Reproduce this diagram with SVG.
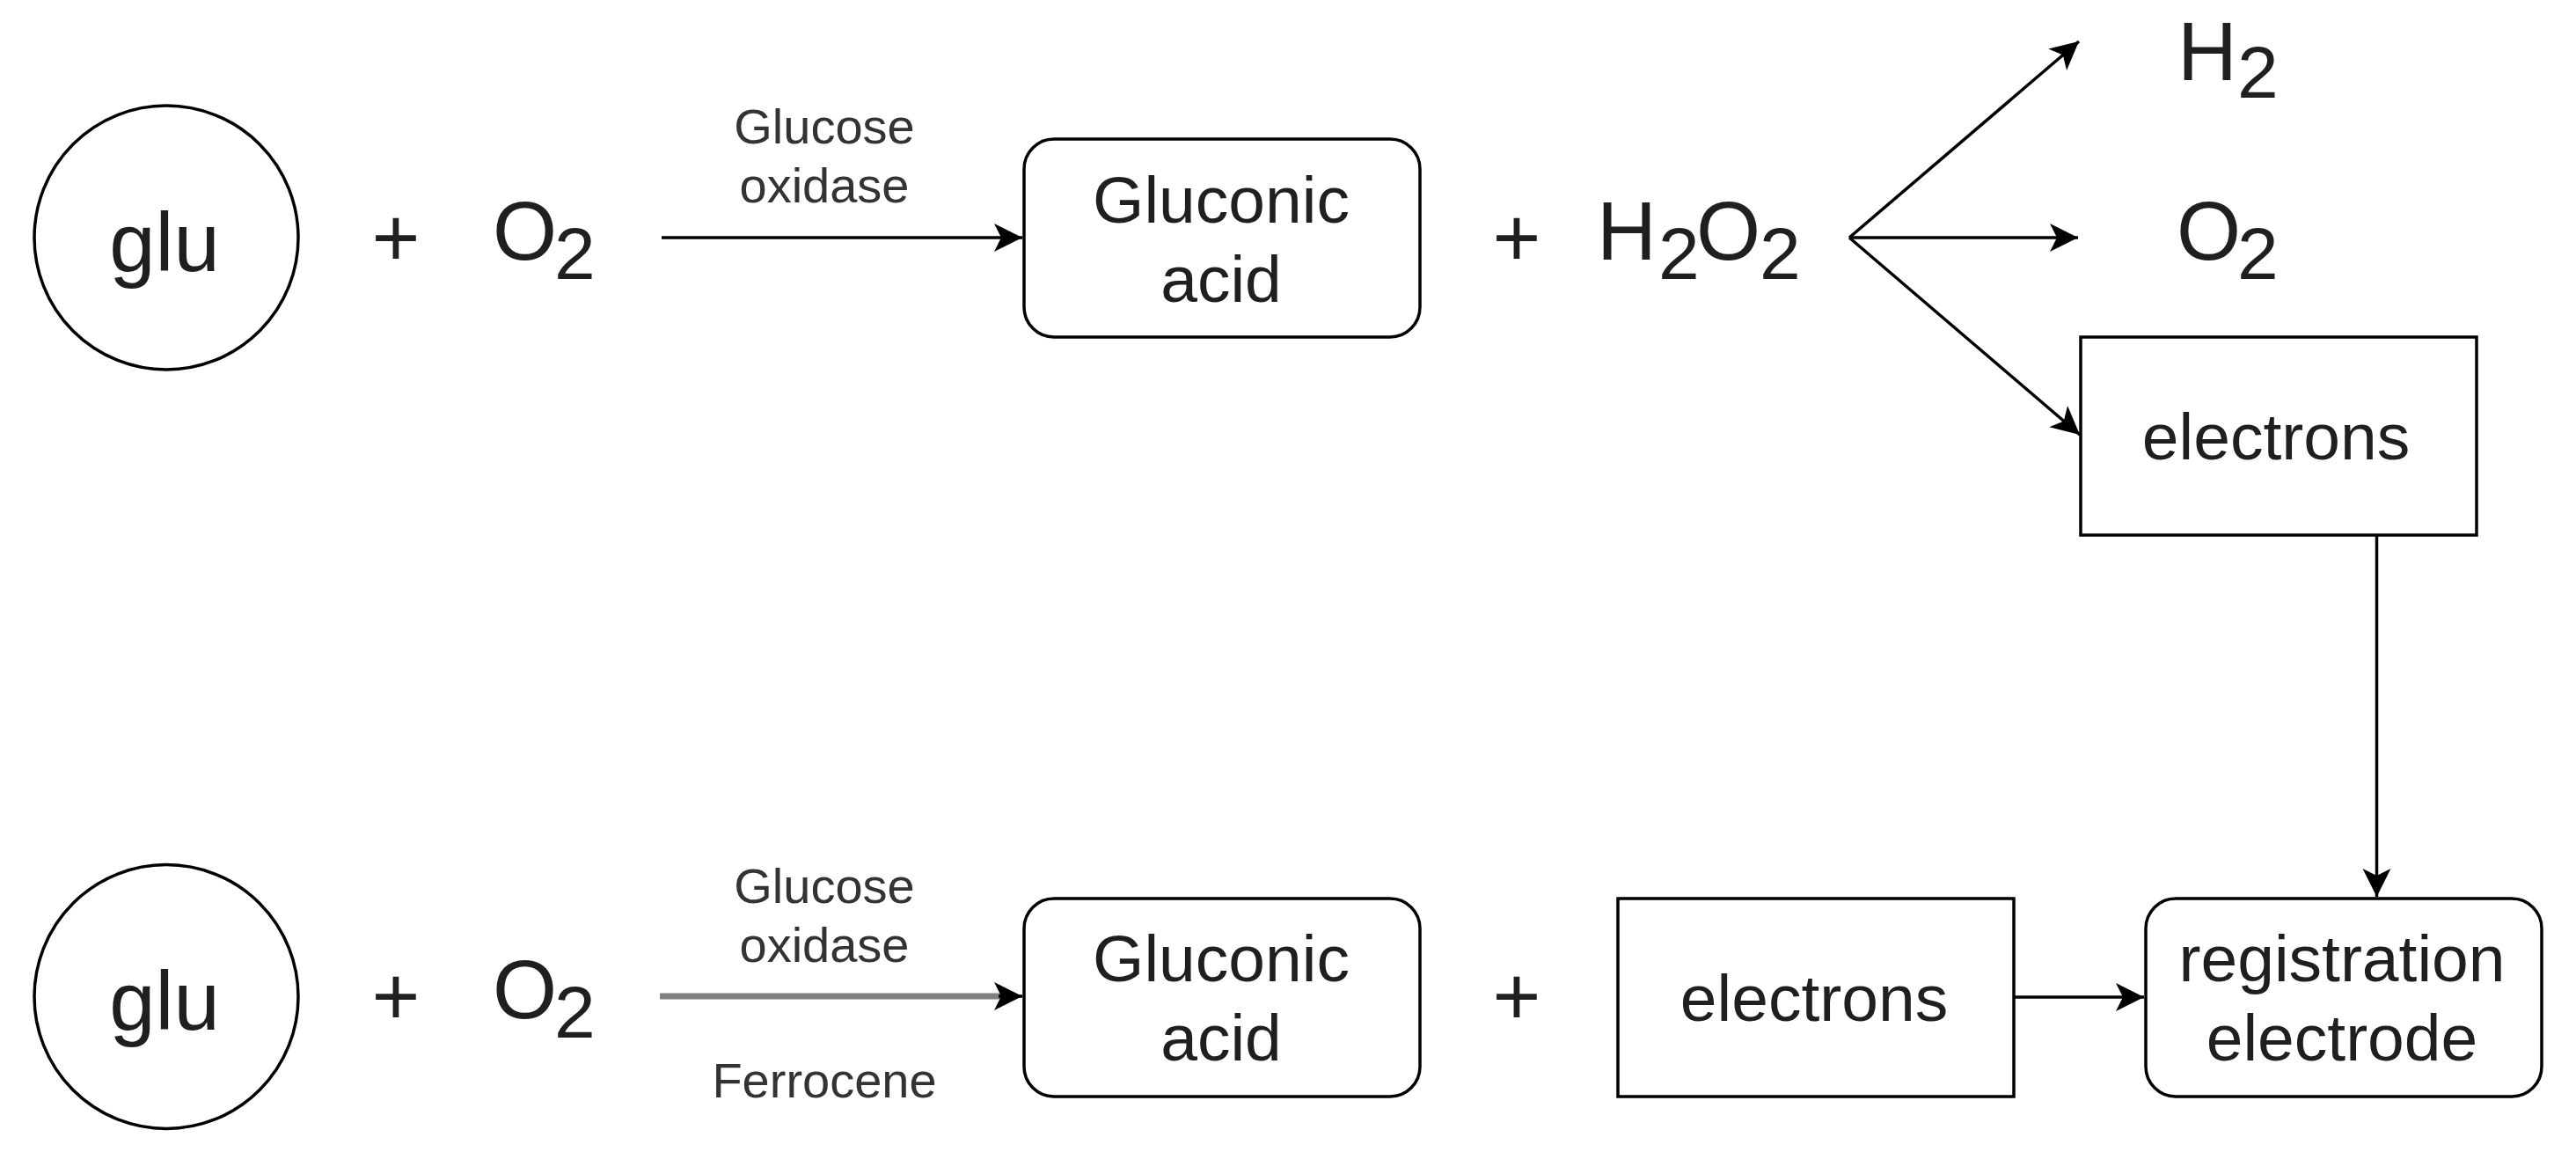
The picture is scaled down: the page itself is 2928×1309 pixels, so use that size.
<svg xmlns="http://www.w3.org/2000/svg" width="2928" height="1309" viewBox="0 0 2928 1309">
<style>
text{font-family:"Liberation Sans",Arial,sans-serif;fill:#1f1f1f}
.c{text-anchor:middle}
.big{font-size:94px}
.sub{font-size:84px}
.mid{font-size:75px}
.lab{font-size:56px;fill:#333;text-anchor:middle}
.s{fill:#fff;stroke:#000;stroke-width:3.5}
.l{fill:none;stroke:#000;stroke-width:3.5}
</style>
<defs>
<marker id="a" markerUnits="userSpaceOnUse" markerWidth="36" markerHeight="36" refX="32" refY="16" orient="auto" viewBox="0 0 36 32"><path d="M0 0L32 16L0 32L8 16Z" fill="#000"/></marker>
</defs>
<rect width="2928" height="1309" fill="#fff"/>
<g id="connectors">
<path class="l" d="M752 270H1162" marker-end="url(#a)"/>
<path class="l" d="M2102 270L2363 47" marker-end="url(#a)"/>
<path class="l" d="M2102 270H2362" marker-end="url(#a)"/>
<path class="l" d="M2102 270L2364 494" marker-end="url(#a)"/>
<path class="l" d="M2701.500 607V1019" marker-end="url(#a)"/>
<path fill="none" stroke="#808080" stroke-width="7" d="M750 1132H1140"/>
<path class="l" d="M1135 1132H1162" marker-end="url(#a)"/>
<path class="l" d="M2290 1133H2437" marker-end="url(#a)"/>
</g>
<g id="glu1"><circle class="s" cx="189" cy="270" r="150"/><text class="big c" x="187" y="308">glu</text></g>
<g id="plus1"><text class="big c" x="450" y="302">+</text></g>
<g id="o2-1"><text class="big" x="560" y="295">O</text><text class="sub" x="630" y="317">2</text></g>
<g id="label1"><text class="lab" x="937" y="163">Glucose</text><text class="lab" x="937" y="230">oxidase</text></g>
<g id="acid1"><rect class="s" x="1164" y="158" width="450" height="225" rx="34"/><text class="mid c" x="1388" y="253">Gluconic</text><text class="mid c" x="1388" y="343">acid</text></g>
<g id="plus2"><text class="big c" x="1724" y="302">+</text></g>
<g id="h2o2"><text class="big" x="1815" y="295">H</text><text class="sub" x="1885" y="317">2</text><text class="big" x="1928" y="295">O</text><text class="sub" x="2000" y="317">2</text></g>
<g id="h2"><text class="big" x="2475" y="91">H</text><text class="sub" x="2543" y="111">2</text></g>
<g id="o2-2"><text class="big" x="2474" y="295">O</text><text class="sub" x="2543" y="317">2</text></g>
<g id="electrons1"><rect class="s" x="2365" y="383" width="450" height="225"/><text class="mid c" x="2587" y="522">electrons</text></g>
<g id="glu2"><circle class="s" cx="189" cy="1132.500" r="150"/><text class="big c" x="187" y="1170">glu</text></g>
<g id="plus3"><text class="big c" x="450" y="1164">+</text></g>
<g id="o2-3"><text class="big" x="560" y="1157">O</text><text class="sub" x="630" y="1179">2</text></g>
<g id="label2"><text class="lab" x="937" y="1026">Glucose</text><text class="lab" x="937" y="1093">oxidase</text><text class="lab" x="937" y="1247">Ferrocene</text></g>
<g id="acid2"><rect class="s" x="1164" y="1021" width="450" height="225" rx="34"/><text class="mid c" x="1388" y="1115">Gluconic</text><text class="mid c" x="1388" y="1205">acid</text></g>
<g id="plus4"><text class="big c" x="1724" y="1164">+</text></g>
<g id="electrons2"><rect class="s" x="1839" y="1021" width="450" height="225"/><text class="mid c" x="2062" y="1160">electrons</text></g>
<g id="electrode"><rect class="s" x="2439" y="1021" width="450" height="225" rx="34"/><text class="mid c" x="2662" y="1115">registration</text><text class="mid c" x="2662" y="1205">electrode</text></g>
</svg>
